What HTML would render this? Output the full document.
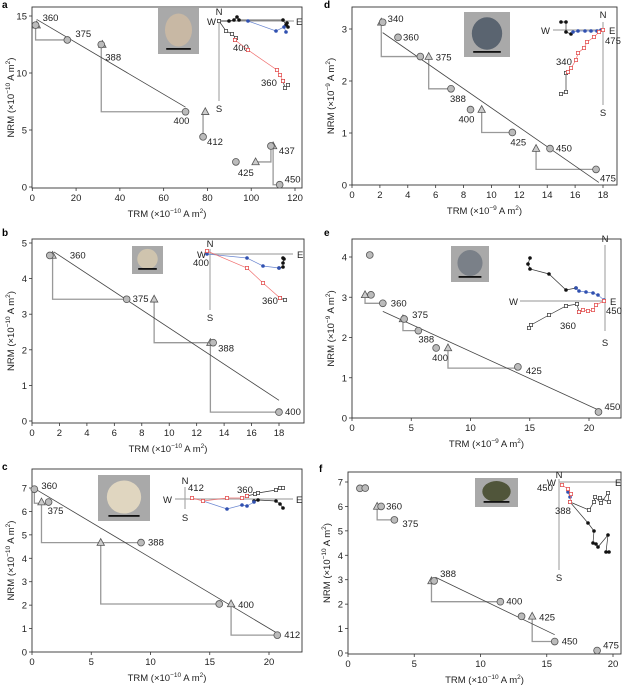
<!DOCTYPE html>
<html><head><meta charset="utf-8">
<style>
html,body{margin:0;padding:0;background:#fff;}
svg{display:block;font-family:"Liberation Sans",sans-serif;}
</style></head>
<body>
<svg id="fig" width="622" height="685" viewBox="0 0 622 685" xmlns="http://www.w3.org/2000/svg"></svg>
<script>
// ---- Panel data (values in axis units) ----
const aCircles=[[1.5,14.2],[16,12.9],[31.5,12.5],[70,6.6],[78,4.4],[93,2.2],[109,3.6],[113,0.2]];
const aCircleLabels=['360','375','388','400','412','425','437','450'];
const aTriangles=[[2,14.2],[32,12.5],[79,6.6],[102,2.2],[110,3.6]];
const aChecks=[[[1.5,14.2],[1.5,12.9],[16,12.9]],[[31.5,12.5],[31.5,6.6],[70,6.6]],[[78,4.4],[78,6.6]],[[102,2.2],[109,2.2],[109,3.6]],[[110,3.6],[110,0.2],[113,0.2]]];
const aFit=[[2,14.7],[70,7.0]];
const aXTicks=[0,20,40,60,80,100,120];
const aYTicks=[0,5,10,15];

const bCircles=[[1.3,4.65],[6.9,3.42],[13.2,2.2],[18,0.25]];
const bCircleLabels=['360','375','388','400'];
const bTriangles=[[1.5,4.65],[8.9,3.42],[13.0,2.2]];
const bChecks=[[[1.5,4.65],[1.5,3.42],[6.9,3.42]],[[8.9,3.42],[8.9,2.2],[13.2,2.2]],[[13,2.2],[13,0.25],[18,0.25]]];
const bFit=[[1.6,4.75],[18,0.58]];
const bXTicks=[0,2,4,6,8,10,12,14,16,18];
const bYTicks=[0,1,2,3,4,5];

const cCircles=[[0.2,6.95],[1.4,6.4],[9.2,4.67],[15.8,2.05],[20.7,0.72]];
const cCircleLabels=['360','375','388','','412'];
const cTriangles=[[0.8,6.4],[5.8,4.67],[16.8,2.05]];
const cTriangleLabels=['','','400'];
const cChecks=[[[0.2,6.95],[0.2,6.35],[0.8,6.35]],[[0.8,6.4],[0.8,4.67],[9.2,4.67]],[[5.8,4.67],[5.8,2.05],[15.8,2.05]],[[16.8,2.05],[16.8,0.72],[20.7,0.72]]];
const cFit=[[0.3,6.95],[20.7,0.8]];
const cXTicks=[0,5,10,15,20];
const cYTicks=[0,1,2,3,4,5,6,7];

const dCircles=[[2.2,3.13],[3.3,2.84],[4.9,2.47],[7.1,1.85],[8.5,1.45],[11.5,1.01],[14.2,0.7],[17.5,0.3]];
const dCircleLabels=['340','360','','388','400','425','450','475'];
const dTriangles=[[2.1,3.13],[5.5,2.47],[9.3,1.45],[13.2,0.7]];
const dTriangleLabels=['','375','',''];
const dChecks=[[[2.1,3.13],[2.1,2.47],[4.9,2.47]],[[5.5,2.47],[5.5,1.85],[7.1,1.85]],[[9.3,1.45],[9.3,1.01],[11.5,1.01]],[[13.2,0.7],[13.2,0.3],[17.5,0.3]]];
const dFit=[[2.2,2.93],[17.7,0.05]];
const dXTicks=[0,2,4,6,8,10,12,14,16,18];
const dYTicks=[0,1,2,3];

const eCircles=[[1.5,4.05],[1.6,3.06],[2.6,2.85],[4.4,2.46],[5.6,2.17],[7.1,1.74],[14,1.27],[20.8,0.15]];
const eCircleLabels=['','','360','375','388','400','425','450'];
const eTriangles=[[1.1,3.06],[4.3,2.46],[8.1,1.74]];
const eChecks=[[[1.1,3.06],[1.1,2.85],[2.6,2.85]],[[4.3,2.46],[4.3,2.17],[5.6,2.17]],[[8.1,1.74],[8.1,1.24],[14,1.24]]];
const eFit=[[2.6,2.65],[20.8,0.2]];
const eXTicks=[0,5,10,15,20];
const eYTicks=[0,1,2,3,4];

const fCircles=[[0.9,6.74],[1.3,6.75],[2.5,6.0],[3.5,5.45],[6.5,2.95],[11.5,2.1],[13.1,1.5],[15.6,0.47],[18.8,0.1]];
const fCircleLabels=['','','360','375','388','400','','450','475'];
const fTriangles=[[2.2,6.0],[6.3,2.95],[13.9,1.5]];
const fTriangleLabels=['','','425'];
const fChecks=[[[2.2,6.0],[2.2,5.45],[3.5,5.45]],[[6.3,2.95],[6.3,2.1],[11.5,2.1]],[[13.9,1.5],[13.9,0.47],[15.6,0.47]]];
const fFit=[[6.6,3.1],[15.6,0.75]];
const fXTicks=[0,5,10,15,20];
const fYTicks=[0,1,2,3,4,5,6,7];

// ---- Zijderveld inset data (offsets from inset origin, in inset units) ----
const aZHoriz=[[0,0],[10,0],[15,-1],[18,-4],[20,-1],[64,-1],[67,4],[69,6],[68,2]];
const aZHorizBlue=[[29,0],[57,10],[65,6],[67,11]];
const aZVertRed=[[16,19],[29,29],[58,49],[61,54],[64,60]];
const aZVert=[[0,0],[7,10],[13,13],[17,17],[16,19]];
const aZVert2=[[64,60],[66,67],[69,64]];

const bZHorizBlue=[[-3,0],[37,4],[53,12],[69,14]];
const bZHoriz=[[69,14],[73,13],[73,9],[74,5],[73,4]];
const bZVertRed=[[-3,-3],[37,14],[53,29],[70,44]];
const bZVert=[[70,44],[75,46]];

const cZVertRed=[[7,-1],[18,2],[42,-1],[57,-1],[62,-3]];
const cZHorizBlue=[[18,2],[42,10],[57,6],[62,7],[69,3]];
const cZHoriz=[[69,2],[73,1],[91,2],[95,5],[98,9]];
const cZVert=[[62,-3],[70,-5],[73,-6],[91,-9],[95,-11],[98,-11]];

const dZHoriz=[[-42,-8],[-37,-8],[-37,2],[-32,4]];
const dZHorizBlue=[[-30,2],[-25,1],[-18,1],[-12,1],[-6,1],[-2,0]];
const dZVertRed=[[-35,42],[-32,38],[-27,30],[-25,23],[-19,18],[-16,12],[-9,7],[-4,2],[0,0]];
const dZVert=[[-42,64],[-37,62],[-37,43],[-35,42]];

const eZHoriz=[[-75,-43],[-77,-37],[-75,-32],[-56,-27],[-39,-11],[-29,-13]];
const eZHorizBlue=[[-29,-13],[-26,-10],[-19,-9],[-12,-8],[-7,-6],[-1,-1]];
const eZVertRed=[[-26,11],[-22,9],[-17,10],[-12,9],[-9,4],[-1,0]];
const eZVert=[[-26,11],[-28,3],[-39,5],[-56,14],[-74,24],[-76,27]];

const fZVertRed=[[3,3],[9,7],[12,12],[11,20]];
const fZHorizBlue=[[9,10],[11,15]];
const fZHoriz=[[11,20],[29,41],[35,49],[34,61],[37,62],[39,65],[49,53],[47,70],[50,70]];
const fZVert=[[11,20],[30,28],[35,20],[36,15],[42,21],[49,11],[50,20],[41,16]];

// ---- drawing ----
const NS='http://www.w3.org/2000/svg';
const svg=document.getElementById('fig');
function mk(tag,attrs,parent){const e=document.createElementNS(NS,tag);for(const k in attrs)e.setAttribute(k,attrs[k]);(parent||svg).appendChild(e);return e;}
function txt(s,x,y,attrs,parent){const t=mk('text',Object.assign({x:x,y:y,'font-size':'9.5',fill:'#222'},attrs||{}),parent);t.textContent=s;return t;}

function panel(P){
  const g=mk('g',{});
  
  
  const sx=v=>P.x0+(v-P.xmin)*(P.x1-P.x0)/(P.xmax-P.xmin);
  const sy=v=>P.y0+(v-P.ymin)*(P.y1-P.y0)/(P.ymax-P.ymin);
  const fr=mk('rect',{x:P.L,y:P.T,width:P.R-P.L,height:P.B-P.T,fill:'none',stroke:'#333','stroke-width':0.9},g);
  
  
  const pl=txt(P.id,P.lx,P.ly,{'font-weight':'bold','font-size':'10',fill:'#000'},g);
  
  
  P.xt.forEach(v=>{const x=sx(v);mk('line',{x1:x,x2:x,y1:P.B,y2:P.B+3,stroke:'#333','stroke-width':0.8},g);
    const t=txt(String(v),x,P.B+13,{'text-anchor':'middle'},g);
    
    });
  P.yt.forEach(v=>{const y=sy(v);mk('line',{x1:P.L-3,x2:P.L,y1:y,y2:y,stroke:'#333','stroke-width':0.8},g);
    const t=txt(String(v),P.L-5,y+3.5,{'text-anchor':'end'},g);
    
    });
  const xl=txt('',(P.L+P.R)/2,P.B+29,{'text-anchor':'middle','font-size':'9.5'},g);
  xl.innerHTML='TRM (×10<tspan dy="-4" font-size="6.5">'+P.exp+'</tspan><tspan dy="4"> A m</tspan><tspan dy="-4" font-size="6.5">2</tspan><tspan dy="4">)</tspan>';
  
  
  const yl=txt('',0,0,{'text-anchor':'middle','font-size':'9.5',transform:'translate('+(P.L-18)+','+((P.T+P.B)/2)+') rotate(-90)'},g);
  yl.innerHTML='NRM (×10<tspan dy="-4" font-size="6.5">'+P.exp+'</tspan><tspan dy="4"> A m</tspan><tspan dy="-4" font-size="6.5">2</tspan><tspan dy="4">)</tspan>';
  
  
  P.checks.forEach(c=>{const l=mk('polyline',{points:c.map(p=>sx(p[0])+','+sy(p[1])).join(' '),fill:'none',stroke:'#999','stroke-width':1.3},g);
    
    });
  const fl=mk('line',{x1:sx(P.fit[0][0]),y1:sy(P.fit[0][1]),x2:sx(P.fit[1][0]),y2:sy(P.fit[1][1]),stroke:'#444','stroke-width':0.8},g);
  
  
  P.tri.forEach((p,i)=>{const x=sx(p[0]),y=sy(p[1]);
    const t=mk('polygon',{points:(x)+','+(y-4)+' '+(x-3.7)+','+(y+2.8)+' '+(x+3.7)+','+(y+2.8),fill:'#ccc',stroke:'#555','stroke-width':0.8},g);
    
    
    const lb=P.triLab&&P.triLab[i];
    if(lb){const q=txt(lb,x+7,y+4,{},g);}});
  P.circ.forEach((p,i)=>{const x=sx(p[0]),y=sy(p[1]);
    const c=mk('circle',{cx:x,cy:y,r:3.4,fill:'#bbb',stroke:'#555','stroke-width':0.8},g);
    
    
    const lb=P.circLab[i];
    if(lb){const o=(P.labOff&&P.labOff[i])||[7,3];
      const q=txt(lb,x+o[0],y+o[1],{},g);}});
  const ph=P.photo;
  const pr=mk('rect',{x:ph[0],y:ph[1],width:ph[2],height:ph[3],fill:'#a9a9a9'},g);
  
  
  mk('ellipse',{cx:ph[0]+ph[2]/2,cy:ph[1]+ph[3]/2-1,rx:ph[2]*0.33,ry:ph[3]*0.36,fill:P.photoCol},g);
  const sb=mk('rect',{x:ph[0]+ph[2]*0.2,y:ph[1]+ph[3]-6,width:ph[2]*0.6,height:1.8,fill:'#111'},g);
  
  
  const z=P.z;
  const zg=mk('g',{transform:'translate('+z.cx+','+z.cy+')'},g);
  
  
  mk('line',{x1:z.w,y1:0,x2:z.e,y2:0,stroke:'#aaa','stroke-width':1.2},zg);
  mk('line',{x1:0,y1:z.n,x2:0,y2:z.s,stroke:'#aaa','stroke-width':1.2},zg);
  z.lab.forEach(l=>{const q=txt(l[0],l[1],l[2],{'text-anchor':l[3]||'start','font-size':'9.5'},zg);});
  function series(pts,col,lineCol,open){
    mk('polyline',{points:pts.map(p=>p[0]+','+p[1]).join(' '),fill:'none',stroke:lineCol,'stroke-width':0.7},zg);
    pts.forEach(p=>{let m;
      if(open){m=mk('rect',{x:p[0]-1.6,y:p[1]-1.6,width:3.2,height:3.2,fill:'#fff',stroke:col,'stroke-width':0.7},zg);}
      else{m=mk('circle',{cx:p[0],cy:p[1],r:1.8,fill:col},zg);}
      
      });
  }
  series(z.h,'#111','#333',false);
  series(z.v,'#333','#333',true);
  if(z.v2)series(z.v2,'#333','#333',true);
  series(z.hb,'#3050b0','#6a86d0',false);
  series(z.vr,'#e04040','#f07070',true);
}

panel({id:'a',L:32,R:302,T:7,B:188,x0:32.3,x1:295,xmin:0,xmax:120,y0:187,y1:16,ymin:0,ymax:15,lx:2,ly:8,exp:'−10',
  xt:aXTicks,yt:aYTicks,checks:aChecks,fit:aFit,tri:aTriangles,circ:aCircles,circLab:aCircleLabels,
  labOff:[[7,-4],[8,-3],[4,16],[-12,12],[4,8],[2,14],[8,8],[5,-2]],
  photo:[158,8,41,46],photoCol:'#c8b8a4',
  z:{cx:219,cy:21,w:0,e:75,n:0,s:80,h:aZHoriz,v:aZVert,v2:aZVert2,hb:aZHorizBlue,vr:aZVertRed,
     lab:[['N',0,-6,'middle'],['W',-3,4,'end'],['E',77,4],['S',0,91,'middle'],['400',14,30,'start'],['360',42,65,'start']]}});
panel({id:'b',L:32,R:304,T:239,B:423,x0:32,x1:279,xmin:0,xmax:18,y0:421,y1:243,ymin:0,ymax:5,lx:2,ly:236,exp:'−10',
  xt:bXTicks,yt:bYTicks,checks:bChecks,fit:bFit,tri:bTriangles,circ:bCircles,circLab:bCircleLabels,
  labOff:[[20,3],[6,3],[5,9],[6,3]],
  photo:[132,246,31,28],photoCol:'#cfc4ae',
  z:{cx:210,cy:254,w:0,e:83,n:-5,s:56,h:bZHoriz,v:bZVert,hb:bZHorizBlue,vr:bZVertRed,
     lab:[['N',0,-7,'middle'],['W',-4,4,'end'],['E',87,4],['S',0,67,'middle'],['400',-17,12,'start'],['360',52,50,'start']]}});
panel({id:'c',L:32,R:302,T:469,B:652,x0:32,x1:269,xmin:0,xmax:20,y0:652,y1:488,ymin:0,ymax:7,lx:2,ly:470,exp:'−10',
  xt:cXTicks,yt:cYTicks,checks:cChecks,fit:cFit,tri:cTriangles,triLab:cTriangleLabels,circ:cCircles,circLab:cCircleLabels,
  labOff:[[7,0],[-1,12],[7,3],null,[7,3]],
  photo:[98,475,52,46],photoCol:'#e0d6c0',
  z:{cx:185,cy:499,w:-10,e:108,n:-12,s:10,h:cZHoriz,v:cZVert,hb:cZHorizBlue,vr:cZVertRed,
     lab:[['N',0,-15,'middle'],['W',-13,4,'end'],['E',111,4],['S',0,22,'middle'],['412',3,-8,'start'],['360',52,-6,'start']]}});
panel({id:'d',L:352,R:617,T:7,B:185,x0:352,x1:603,xmin:0,xmax:18,y0:185,y1:29,ymin:0,ymax:3,lx:324,ly:8,exp:'−9',
  xt:dXTicks,yt:dYTicks,checks:dChecks,fit:dFit,tri:dTriangles,triLab:dTriangleLabels,circ:dCircles,circLab:dCircleLabels,
  labOff:[[5,0],[5,3],null,[-1,13],[-12,13],[-2,13],[6,3],[4,12]],
  photo:[464,12,46,45],photoCol:'#5a6470',
  z:{cx:603,cy:30,w:-50,e:0,n:-8,s:75,h:dZHoriz,v:dZVert,hb:dZHorizBlue,vr:dZVertRed,
     lab:[['N',0,-12,'middle'],['W',-53,4,'end'],['E',6,4],['S',0,86,'middle'],['340',-47,35,'start'],['475',2,14,'start']]}});
panel({id:'e',L:352,R:621,T:239,B:418,x0:352,x1:589,xmin:0,xmax:20,y0:418,y1:257,ymin:0,ymax:4,lx:324,ly:236,exp:'−9',
  xt:eXTicks,yt:eYTicks,checks:eChecks,fit:eFit,tri:eTriangles,circ:eCircles,circLab:eCircleLabels,
  labOff:[null,null,[8,3],[8,-1],[0,12],[-4,13],[8,7],[6,-2]],
  photo:[451,246,38,36],photoCol:'#7a8088',
  z:{cx:605,cy:301,w:-85,e:0,n:-56,s:30,h:eZHoriz,v:eZVert,hb:eZHorizBlue,vr:eZVertRed,
     lab:[['N',0,-59,'middle'],['W',-87,4,'end'],['E',5,4],['S',0,45,'middle'],['360',-45,28,'start'],['450',1,13,'start']]}});
panel({id:'f',L:348,R:621,T:472,B:654,x0:348,x1:613,xmin:0,xmax:20,y0:653,y1:482,ymin:0,ymax:7,lx:319,ly:472,exp:'−10',
  xt:fXTicks,yt:fYTicks,checks:fChecks,fit:fFit,tri:fTriangles,triLab:fTriangleLabels,circ:fCircles,circLab:fCircleLabels,
  labOff:[null,null,[5,3],[8,7],[6,-4],[6,3],null,[7,3],[6,-2]],
  photo:[475,478,43,29],photoCol:'#50553a',
  z:{cx:559,cy:482,w:0,e:62,n:-3,s:88,h:fZHoriz,v:fZVert,hb:fZHorizBlue,vr:fZVertRed,
     lab:[['N',0,-4,'middle'],['W',-3,4,'end'],['E',56,4],['S',0,99,'middle'],['450',-22,9,'start'],['388',-4,32,'start']]}});
</script>
</body></html>
